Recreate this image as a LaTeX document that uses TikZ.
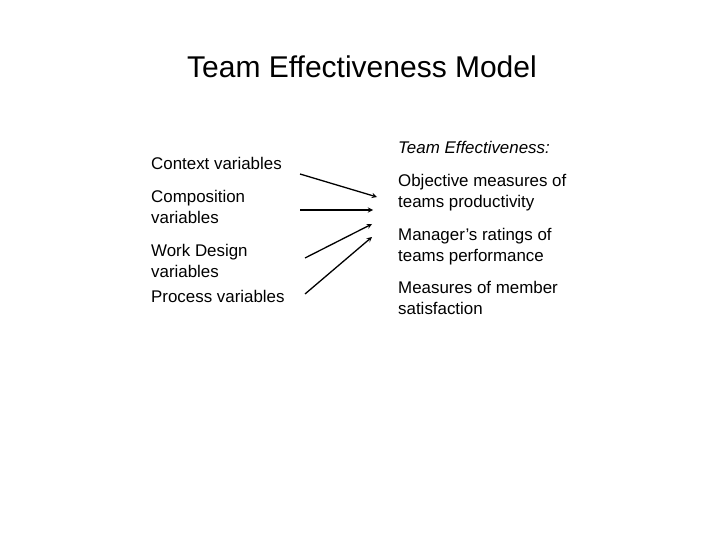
\documentclass[tikz,border=0pt]{standalone}
\usepackage{fontspec}
\setmainfont{Liberation Sans}
\usepackage{tikz}
\usetikzlibrary{calc}

\begin{document}
\begin{tikzpicture}[x=1pt,y=-1pt,every node/.style={inner sep=0pt,align=left,anchor=base west},
  item/.style={font=\fontsize{16.9}{20.6}\selectfont},
  link/.style={->,>=stealth,line width=1.3pt}]
\fill[white] (0,0) rectangle (720,540);
\useasboundingbox (0,0) rectangle (720,540);
\draw (362,77.3) node (title) [anchor=base,font=\fontsize{30}{36}\selectfont] {Team Effectiveness Model};
% left column: input variables (multi-line nodes sit on their last line)
\draw (151,170) node (context) [item] {Context variables};
\draw (151,223.3) node (composition) [item] {Composition\\variables};
\draw (151,277.3) node (workdesign) [item] {Work Design\\variables};
\draw (151,302.7) node (process) [item] {Process variables};
% right column: outcomes
\draw (398,153.5) node (effect) [item,font=\fontsize{16.9}{20.6}\selectfont\itshape] {Team Effectiveness:};
\draw (398,207.3) node (objective) [item] {Objective measures of\\teams productivity};
\draw (398,261.1) node (ratings) [item] {Manager’s ratings of\\teams performance};
\draw (398,314.1) node (satisfaction) [item] {Measures of member\\satisfaction};
% arrows
\coordinate (c1) at (300,174);
\coordinate (c2) at (300,210);
\coordinate (c3) at (305,258);
\coordinate (c4) at (305,294);
\coordinate (t1) at (377,197);
\coordinate (t2) at (373,210);
\coordinate (t3) at (372,224);
\coordinate (t4) at (372,237);
\draw[link] (c1)--(t1);
\draw[link] (c2)--(t2);
\draw[link] (c3)--(t3);
\draw[link] (c4)--(t4);
\end{tikzpicture}
\end{document}
